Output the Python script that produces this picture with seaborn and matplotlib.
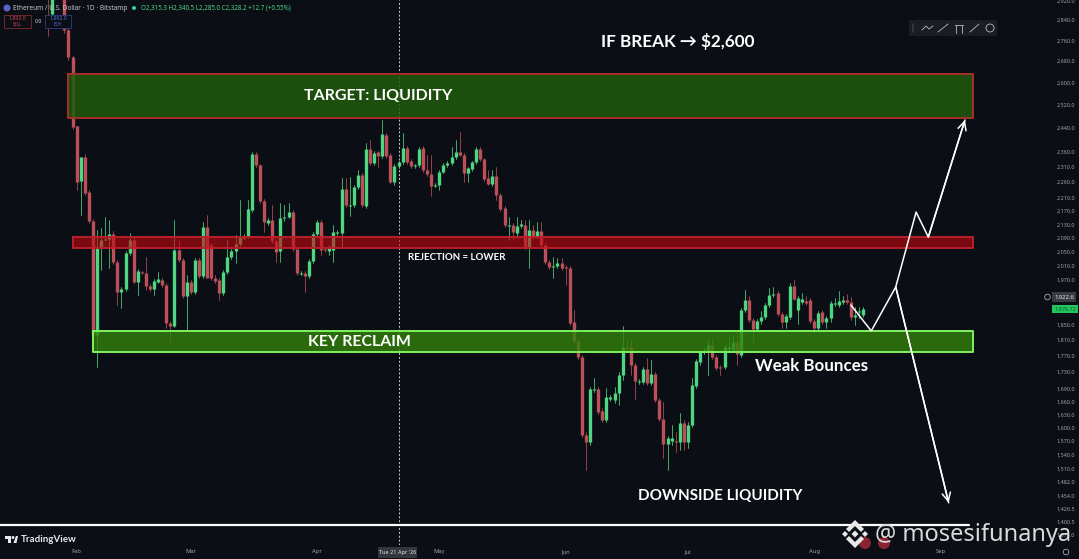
import pandas as pd
import matplotlib
matplotlib.use('Agg')
import matplotlib.pyplot as plt
from matplotlib.patches import Ellipse, Polygon, Rectangle
import seaborn as sns

W, H = 1079, 559
BG = '#0b0e14'

# ---- candles, one row per day from 25 Jan ----
first_day = '2026-01-25'
opens = [3010, 2864, 3000, 2990, 2950, 2801, 2696,
         # Feb
         2447, 2264, 2342, 2229, 2140, 1822, 2060, 2084, 2087, 2101, 2020, 1937, 1945, 2046,
         2084, 1964, 1991, 1989, 1953, 1945, 1964, 1969, 1956, 1853, 1845, 2054, 2026, 1926,
         # Mar
         1964, 1937, 2026, 1980, 2122, 2069, 1975, 1969, 1934, 1991, 2034, 2051, 2072, 2090,
         2095, 2173, 2352, 2315, 2201, 2134, 2143, 2081, 2051, 2149, 2152, 2167, 2057, 1986,
         1989, 1980, 2023,
         # Apr
         2101, 2137, 2057, 2051, 2054, 2104, 2104, 2238, 2185, 2188, 2245, 2283, 2185, 2368,
         2322, 2358, 2345, 2416, 2349, 2261, 2312, 2325, 2372, 2329, 2312, 2315, 2372, 2299,
         2286, 2248,
         # May
         2251, 2292, 2315, 2322, 2342, 2358, 2349, 2289, 2302, 2325, 2368, 2335, 2273, 2254,
         2280, 2220, 2179, 2125, 2128, 2104, 2125, 2128, 2063, 2113, 2095, 2110, 2069, 2020,
         2006, 2009, 2017,
         # Jun
         2006, 2003, 1856, 1807, 1767, 1583, 1568, 1687, 1689, 1638, 1617, 1665, 1663, 1680,
         1723, 1791, 1791, 1747, 1706, 1706, 1737, 1704, 1725, 1663, 1619, 1563, 1570, 1570,
         1568, 1610,
         # Jul
         1568, 1606, 1697, 1754, 1779, 1782, 1797, 1767, 1742, 1742, 1786, 1784, 1805, 1772,
         1888, 1915, 1861, 1838, 1858, 1869, 1901, 1929, 1934, 1877, 1856, 1869, 1953, 1888,
         1910, 1912, 1915,
         # Aug
         1858, 1840, 1883, 1856, 1866, 1904, 1901, 1910, 1915, 1910, 1869, 1883, 1874]
closes = [2960, 2940, 2960, 2950, 2801, 2696, 2443,
          2261, 2342, 2226, 2140, 1822, 2060, 2084, 2087, 2101, 2020, 1937, 1945, 2046, 2084,
          1964, 1994, 1989, 1953, 1945, 1966, 1972, 1956, 1853, 1845, 2054, 2026, 1926, 1964,
          1937, 2026, 1980, 2122, 1975, 1975, 1966, 1934, 1991, 2034, 2051, 2072, 2092, 2095,
          2176, 2352, 2315, 2201, 2137, 2143, 2081, 2048, 2149, 2152, 2167, 2057, 1989, 1989,
          1980, 2023, 2101,
          2137, 2054, 2054, 2063, 2107, 2107, 2238, 2188, 2188, 2245, 2283, 2188, 2368, 2322,
          2355, 2345, 2419, 2345, 2261, 2312, 2325, 2372, 2325, 2312, 2315, 2368, 2299, 2286,
          2248, 2251,
          2292, 2315, 2322, 2342, 2358, 2349, 2289, 2305, 2325, 2368, 2335, 2270, 2254, 2280,
          2220, 2176, 2128, 2128, 2107, 2125, 2131, 2063, 2113, 2092, 2110, 2069, 2020, 2006,
          2009, 2017, 2003,
          2003, 1853, 1807, 1767, 1583, 1568, 1689, 1689, 1635, 1617, 1670, 1670, 1680, 1723,
          1791, 1789, 1747, 1708, 1708, 1737, 1704, 1725, 1663, 1619, 1563, 1576, 1576, 1568,
          1610, 1568,
          1606, 1699, 1757, 1779, 1784, 1797, 1767, 1740, 1740, 1791, 1791, 1805, 1774, 1888,
          1915, 1861, 1838, 1858, 1869, 1901, 1929, 1931, 1877, 1856, 1872, 1953, 1918, 1921,
          1918, 1907, 1858,
          1840, 1880, 1856, 1866, 1907, 1907, 1912, 1915, 1910, 1869, 1874, 1885, 1891]
highs = [3030, 2960, 3020, 3010, 2970, 2810, 2700,
         2447, 2342, 2350, 2235, 2145, 2113, 2119, 2152, 2143, 2110, 2025, 1950, 2050, 2104,
         2090, 2000, 1995, 2034, 1958, 1972, 1991, 1975, 1960, 1858, 2143, 2084, 2030, 1983,
         1970, 2032, 2032, 2137, 2158, 2075, 1982, 1975, 1997, 2084, 2057, 2098, 2204, 2100,
         2204, 2358, 2358, 2320, 2206, 2150, 2188, 2086, 2195, 2188, 2195, 2173, 2062, 1993,
         1993, 2028, 2106,
         2143, 2143, 2062, 2068, 2128, 2112, 2273, 2273, 2277, 2250, 2299, 2290, 2388, 2399,
         2360, 2363, 2467, 2422, 2355, 2318, 2330, 2423, 2378, 2335, 2320, 2374, 2378, 2349,
         2349, 2256,
         2298, 2321, 2328, 2375, 2399, 2426, 2355, 2310, 2330, 2374, 2374, 2340, 2299, 2299,
         2309, 2225, 2185, 2152, 2134, 2152, 2143, 2143, 2143, 2128, 2137, 2137, 2075, 2026,
         2034, 2031, 2031,
         2012, 2008, 1888, 1812, 1772, 1590, 1695, 1716, 1695, 1645, 1692, 1676, 1694, 1729,
         1845, 1810, 1810, 1752, 1712, 1742, 1764, 1759, 1730, 1668, 1659, 1582, 1606, 1590,
         1633, 1616,
         1612, 1716, 1762, 1784, 1790, 1810, 1815, 1772, 1748, 1797, 1817, 1822, 1822, 1893,
         1942, 1926, 1866, 1864, 1885, 1907, 1947, 1950, 1940, 1882, 1878, 1961, 1969, 1926,
         1934, 1926, 1920,
         1864, 1886, 1888, 1872, 1912, 1921, 1940, 1926, 1931, 1923, 1896, 1896, 1896]
lows = [2778, 2820, 2950, 2940, 2790, 2684, 2435,
        2235, 2158, 2220, 2135, 1815, 1742, 1997, 2084, 2003, 2015, 1901, 1893, 1940, 2040,
        1960, 1929, 1985, 1942, 1940, 1929, 1960, 1950, 1840, 1802, 1842, 2020, 1920, 1835,
        1932, 1930, 1975, 1975, 2065, 1970, 1960, 1915, 1928, 1985, 2028, 2017, 2066, 2085,
        2090, 2168, 2310, 2196, 2107, 2128, 2076, 2020, 2020, 2140, 2148, 2050, 1984, 1982,
        1937, 1975, 2018,
        2095, 2040, 2048, 2040, 2020, 2098, 2063, 2183, 2155, 2183, 2240, 2183, 2180, 2316,
        2316, 2309, 2340, 2340, 2256, 2251, 2305, 2320, 2320, 2306, 2305, 2310, 2293, 2280,
        2217, 2244,
        2235, 2288, 2310, 2316, 2335, 2344, 2261, 2261, 2297, 2320, 2330, 2265, 2250, 2248,
        2204, 2170, 2122, 2084, 2084, 2090, 2120, 2058, 2003, 2087, 2090, 2064, 2015, 2000,
        1975, 2003, 1998,
        1956, 1848, 1802, 1762, 1578, 1507, 1562, 1682, 1630, 1612, 1612, 1660, 1656, 1652,
        1711, 1784, 1723, 1665, 1700, 1700, 1698, 1698, 1658, 1614, 1532, 1507, 1561, 1546,
        1550, 1550,
        1554, 1600, 1692, 1747, 1774, 1723, 1762, 1735, 1723, 1737, 1780, 1780, 1747, 1767,
        1882, 1856, 1805, 1832, 1852, 1864, 1896, 1924, 1872, 1840, 1840, 1864, 1914, 1851,
        1905, 1902, 1853,
        1835, 1835, 1850, 1840, 1856, 1899, 1896, 1905, 1905, 1861, 1848, 1866, 1870]

# ---- zones: top, bottom, first day, last day ----
target_zone = [2632, 2474, '2026-01-30', '2026-09-09']
reject_zone = [2092, 2060, '2026-01-31', '2026-09-09']
reclaim_zone = [1833, 1779, '2026-02-05', '2026-09-09']

# ---- projected paths ----
up_dates = ['2026-08-10', '2026-08-15', '2026-08-21', '2026-08-26', '2026-08-29', '2026-09-07']
up_prices = [1901, 1833, 1950, 2167, 2092, 2467]
down_dates = ['2026-08-21', '2026-09-03']
down_prices = [1950, 1439]
base_dates = ['2026-01-01', '2026-09-08']
base_prices = [1394, 1394]

# ---- axes ----
y_ticks = [2920, 2840, 2760, 2680, 2600, 2520, 2440, 2360, 2310, 2260, 2210, 2170, 2130, 2090,
           2050, 2010, 1970, 1850, 1810, 1770, 1730, 1690, 1660, 1630, 1600, 1570, 1540, 1510,
           1482, 1454, 1426.5, 1400.5, 1375]
month_days = ['2026-02-01', '2026-03-01', '2026-04-01', '2026-05-01', '2026-06-01', '2026-07-01',
              '2026-08-01', '2026-09-01']
month_names = ['Feb', 'Mar', 'Apr', 'May', 'Jun', 'Jul', 'Aug', 'Sep']
cross_day = '2026-04-21'

sns.set_theme(style='dark')
plt.rcParams['font.family'] = ['Noto Sans', 'DejaVu Sans']
plt.rcParams['savefig.facecolor'] = BG

days = pd.date_range(first_day, periods=len(opens))
df = pd.DataFrame({'date': days, 'open': opens, 'high': highs, 'low': lows, 'close': closes})
df['side'] = ['up' if c >= o else 'down' for o, c in zip(df['open'], df['close'])]
df['body_top'] = df[['open', 'close']].max(axis=1)
df['body_bot'] = df[['open', 'close']].min(axis=1)
wicks = df.melt(id_vars=['date', 'side'], value_vars=['high', 'low'], value_name='price')
bodies = df.melt(id_vars=['date', 'side'], value_vars=['body_top', 'body_bot'], value_name='price')

fig = plt.figure(figsize=(W / 100, H / 100), dpi=100, facecolor=BG)
ax = fig.add_axes([0, 14 / H, 1047 / W, 545 / H], facecolor=BG)
ax.set_yscale('log')

pal = {'up': '#4ed681', 'down': '#bb505b'}
sns.lineplot(data=wicks, x='date', y='price', hue='side', units='date', estimator=None, palette=pal,
             linewidth=0.55, legend=False, sort=False, ax=ax, zorder=2)
sns.lineplot(data=bodies, x='date', y='price', hue='side', units='date', estimator=None, palette=pal,
             linewidth=2.4, legend=False, sort=False, ax=ax, zorder=2, solid_capstyle='butt')


def draw_zone(zone, fill, edge, alpha):
    top, bot, start, end = zone
    x = [pd.Timestamp(start), pd.Timestamp(end)]
    ax.fill_between(x, bot, top, facecolor=fill, alpha=alpha, lw=0, zorder=3)
    ax.plot([x[0], x[1], x[1], x[0], x[0]], [top, top, bot, bot, top], color=edge, lw=1.4, zorder=3.1)


draw_zone(target_zone, '#205a0e', '#a3302a', 0.85)
draw_zone(reject_zone, '#c50711', '#b8202a', 0.6)
draw_zone(reclaim_zone, '#32810a', '#7df25f', 0.8)

sns.lineplot(x=pd.to_datetime(up_dates), y=up_prices, sort=False, estimator=None, color='white',
             linewidth=1.1, ax=ax, zorder=5)
sns.lineplot(x=pd.to_datetime(down_dates), y=down_prices, sort=False, estimator=None, color='white',
             linewidth=1.1, ax=ax, zorder=5)
sns.lineplot(x=pd.to_datetime(base_dates), y=base_prices, sort=False, estimator=None, color='white',
             linewidth=1.6, ax=ax, zorder=5)
for path_x, path_y in [(up_dates, up_prices), (down_dates, down_prices)]:
    ax.annotate('', xy=(pd.Timestamp(path_x[-1]), path_y[-1]), xytext=(pd.Timestamp(path_x[-2]), path_y[-2]),
                arrowprops=dict(arrowstyle='->', color='white', lw=1.1, mutation_scale=15,
                                shrinkA=0, shrinkB=0), zorder=5)

ax.axvline(pd.Timestamp(cross_day), color='#c9ccd2', lw=0.7, ls=(0, (2, 2)), zorder=1)

start = pd.Timestamp('2026-01-30')
ax.set_xlim(start - pd.Timedelta(days=68.5 / 4.075), start + pd.Timedelta(days=(1047 - 68.5) / 4.075))
ax.set_ylim(1356, 2921)
ax.minorticks_off()
ax.yaxis.tick_right()
ax.set_yticks(y_ticks)
ax.set_yticklabels([f'{v:,.1f}' for v in y_ticks])
ax.set_xticks(pd.to_datetime(month_days))
ax.set_xticklabels(month_names)
ax.tick_params(axis='y', length=0, pad=7, labelsize=3.9, labelcolor='#9ea2ab')
ax.tick_params(axis='x', length=0, pad=3, labelsize=4.2, labelcolor='#9ea2ab')
ax.set_xlabel('')
ax.set_ylabel('')
ax.grid(False)
for s in ax.spines.values():
    s.set_visible(False)


# ---- everything below sits on top of the chart, placed in pixels ----
def txt(x, y, s, size, color='white', weight='normal', ha='left', **kw):
    return fig.text(x / W, 1 - y / H, s, fontsize=size, color=color, fontweight=weight, ha=ha, va='center', **kw)


def note(x, y, s, size):
    return txt(x, y, s, size, weight='bold', family=['Lato', 'DejaVu Sans'])


def box(x0, y0, x1, y1, face, edge='none', lw=0.6):
    fig.add_artist(Rectangle((x0 / W, 1 - y1 / H), (x1 - x0) / W, (y1 - y0) / H, transform=fig.transFigure,
                             facecolor=face, edgecolor=edge, lw=lw, zorder=6))


def poly(points, face):
    fig.add_artist(Polygon([(x / W, 1 - y / H) for x, y in points], closed=True, transform=fig.transFigure,
                           facecolor=face, edgecolor='none', zorder=7))


def line(points, color='#b8bcc4', lw=0.6):
    fig.add_artist(plt.Line2D([x / W for x, y in points], [1 - y / H for x, y in points], color=color, lw=lw,
                              zorder=7))


def dot(x, y, r, face='none', edge='none', lw=0.6, z=7):
    fig.add_artist(Ellipse((x / W, 1 - y / H), 2 * r / W, 2 * r / H, transform=fig.transFigure,
                           facecolor=face, edgecolor=edge, lw=lw, zorder=z))


# chart notes
note(601, 41, 'IF BREAK → $2,600', 12.3)
note(304, 96, 'TARGET: LIQUIDITY', 11.5)
note(308, 342, 'KEY RECLAIM', 11.4)
note(408, 258, 'REJECTION = LOWER', 7)
note(755, 366, 'Weak Bounces', 12.2)
note(638, 496, 'DOWNSIDE LIQUIDITY', 11)

# legend row
dot(7, 8, 3.5, face='#5a63c8')
txt(13, 8, 'Ethereum / U.S. Dollar · 1D · Bitstamp', 4.7, color='#c3c6cd')
dot(134, 8, 2, face='#37d39a')
txt(141, 8, 'O2,315.3 H2,340.5 L2,285.0 C2,328.2 +12.7 (+0.55%)', 4.5, color='#4ed681')
box(4, 15, 31, 28, BG, '#7d2b33')
txt(17.5, 18.5, '1,892.0', 3.8, color='#d0424e', ha='center', zorder=8)
txt(17.5, 24.5, 'SELL', 3.2, color='#d0424e', ha='center', zorder=8)
txt(38, 21.5, '0.0', 3.8, color='#d8dadf', ha='center')
box(45, 15, 71, 28, BG, '#2a3f7c')
txt(58, 18.5, '1,892.0', 3.8, color='#4a6ee0', ha='center', zorder=8)
txt(58, 24.5, 'BUY', 3.2, color='#4a6ee0', ha='center', zorder=8)

# drawing toolbar
box(909, 20, 997, 36, '#1b1d22')
line([(913, 24), (913, 32)], color='#3a3c42', lw=1.2)
line([(922, 30), (926, 26), (929, 29), (933, 26)])
line([(938, 32), (948, 24)])
line([(955, 25), (963, 25)])
line([(956, 25), (956, 33)])
line([(962, 25), (962, 33)])
line([(970, 32), (979, 24)])
dot(990, 28, 4, edge='#b8bcc4')

# price tags on the right
box(1052, 292, 1076, 302, '#3a3c42')
txt(1064, 297, '1,922.6', 4.2, color='#e4e5e8', ha='center', zorder=8)
dot(1047.5, 297, 2.8, edge='#a8abb2')
box(1052, 305, 1078, 313, '#22c55e')
txt(1065, 309, '1,876.72', 4.0, color='#0b5c2c', ha='center', zorder=8)
dot(1066, 552, 2.8, edge='#a8abb2')

# crosshair date tag
box(378, 547, 417, 558, '#33363c')
txt(397.5, 552.5, "Tue 21 Apr '26", 4.0, color='#e4e5e8', ha='center', zorder=8)

# TradingView mark
poly([(5, 536), (11, 536), (11, 543), (8, 543), (8, 539), (5, 539)], '#e8e9ec')
dot(13, 537.5, 1.5, face='#e8e9ec')
poly([(13.5, 543), (16, 536), (18, 536), (16.5, 543)], '#e8e9ec')
txt(21, 539, 'TradingView', 7.0, color='#e8e9ec', weight='bold', family=['Lato', 'DejaVu Sans'])

# watermark: diamond mark, two badges, handle
dot(865, 543, 6, face='#8a2333', z=6.5)
dot(884, 543, 6, face='#8a2333', z=6.5)
poly([(855, 520), (864, 529), (861, 532), (855, 526), (849, 532), (846, 529)], '#e8e8e8')
poly([(855, 548), (864, 539), (861, 536), (855, 542), (849, 536), (846, 539)], '#e8e8e8')
for cx, cy, r in [(855, 534, 3.5), (845, 534, 3), (865, 534, 3)]:
    poly([(cx, cy - r), (cx + r, cy), (cx, cy + r), (cx - r, cy)], '#e8e8e8')
txt(875, 535, '@ mosesifunanya', 17, color='#d9d9d9', zorder=8)

fig.savefig('out.png', dpi=100, facecolor=BG)
